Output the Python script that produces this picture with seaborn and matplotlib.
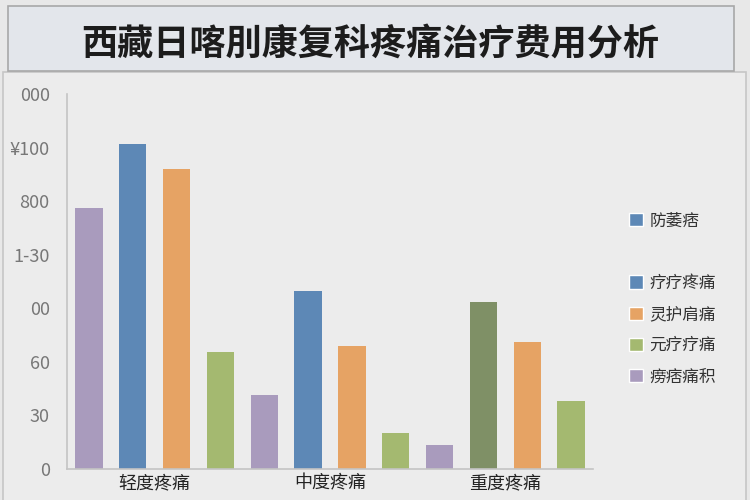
import pandas as pd
import matplotlib
matplotlib.use("Agg")
import matplotlib.pyplot as plt
from matplotlib.patches import Rectangle, Patch
import seaborn as sns

# =========================
# DADOS
# =========================
categorias = ["轻度疼痛", "中度疼痛", "重度疼痛"]
series = ["痨痞痛积", "疗疗疼痛", "灵护肩痛", "元疗疗痛"]
valores = {
    "痨痞痛积": [975, 275, 90],
    "疗疗疼痛": [1215, 665, 625],
    "灵护肩痛": [1120, 460, 475],
    "元疗疗痛": [435, 135, 255],
}
y_ticks = [0, 200, 400, 600, 800, 1000, 1200, 1400]
y_labels = ["0", "30", "60", "00", "1-30", "800", "¥100", "000"]
legenda_extra = "防萎痞"
titulo = "西藏日喀刖康复科疼痛治疗费用分析"

cores = {"痨痞痛积": "#a99bbd", "疗疗疼痛": "#5d88b6",
         "灵护肩痛": "#e6a364", "元疗疗痛": "#a4b970"}
cor_destaque = "#7f9066"

linhas = []
for s in series:
    for c, v in zip(categorias, valores[s]):
        linhas.append({"categoria": c, "serie": s, "valor": v})
df = pd.DataFrame(linhas)

# =========================
# FIGURA
# =========================
sns.set_theme(style="white")
plt.rcParams["font.family"] = ["Noto Sans CJK SC", "DejaVu Sans"]

fig = plt.figure(figsize=(7.5, 5), dpi=100, facecolor="#e8e8e8")

# painel principal e caixa do titulo (atras dos eixos)
fig.patches.append(Rectangle((0.004, -0.02), 0.991, 0.876, transform=fig.transFigure,
                             facecolor="#ececec", edgecolor="#c6c6c6", lw=1.2, zorder=-2))
fig.patches.append(Rectangle((0.011, 0.858), 0.968, 0.130, transform=fig.transFigure,
                             facecolor="#e3e6eb", edgecolor="#a8a8a8", lw=1.2, zorder=-1))
fig.text(0.493, 0.912, titulo, ha="center", va="center", fontsize=26,
         fontweight="heavy", color="#1c1c1c")

ax = fig.add_axes([67 / 750, 1 - 469 / 500, 526 / 750, 375 / 500])
ax.set_facecolor("none")

sns.barplot(data=df, x="categoria", y="valor", hue="serie", order=categorias,
            hue_order=series, palette=cores, width=1.0, gap=0.38,
            saturation=1, linewidth=0, legend=False, ax=ax)

# barra de destaque (grupo 3, segunda serie)
idx = series.index("疗疗疼痛") * len(categorias) + 2
ax.patches[idx].set_facecolor(cor_destaque)

ax.set_xlim(-0.5, 2.5)
ax.set_ylim(0, 1400)
ax.set_yticks(y_ticks)
ax.set_yticklabels(y_labels)
ax.set_xlabel("")
ax.set_ylabel("")

for lado in ["top", "right"]:
    ax.spines[lado].set_visible(False)
for lado in ["left", "bottom"]:
    ax.spines[lado].set_color("#c4c4c4")
    ax.spines[lado].set_linewidth(1.2)

ax.tick_params(axis="y", length=7, direction="inout", color="#c4c4c4",
               labelsize=13, labelcolor="#777777", pad=9)
ax.tick_params(axis="x", which="major", length=0, labelsize=13,
               labelcolor="#222222", pad=4)
ax.set_xticks([0.5, 1.5, 2.5], minor=True)
ax.tick_params(axis="x", which="minor", length=6, color="#c4c4c4", width=1)

# legenda
handles = [Patch(facecolor=cores["疗疗疼痛"], label=legenda_extra),
           Patch(facecolor="none", edgecolor="none", label=" ")]
ordem_legenda = ["疗疗疼痛", "灵护肩痛", "元疗疗痛", "痨痞痛积"]
for s in ordem_legenda:
    handles.append(Patch(facecolor=cores[s], label=s))

fig.legend(handles=handles, loc="upper left", bbox_to_anchor=(0.818, 0.605),
           frameon=False, fontsize=12, handlelength=0.85, handleheight=0.85,
           handletextpad=0.4, labelspacing=0.85, labelcolor="#333333")

plt.savefig("out.png", dpi=100, facecolor=fig.get_facecolor())
